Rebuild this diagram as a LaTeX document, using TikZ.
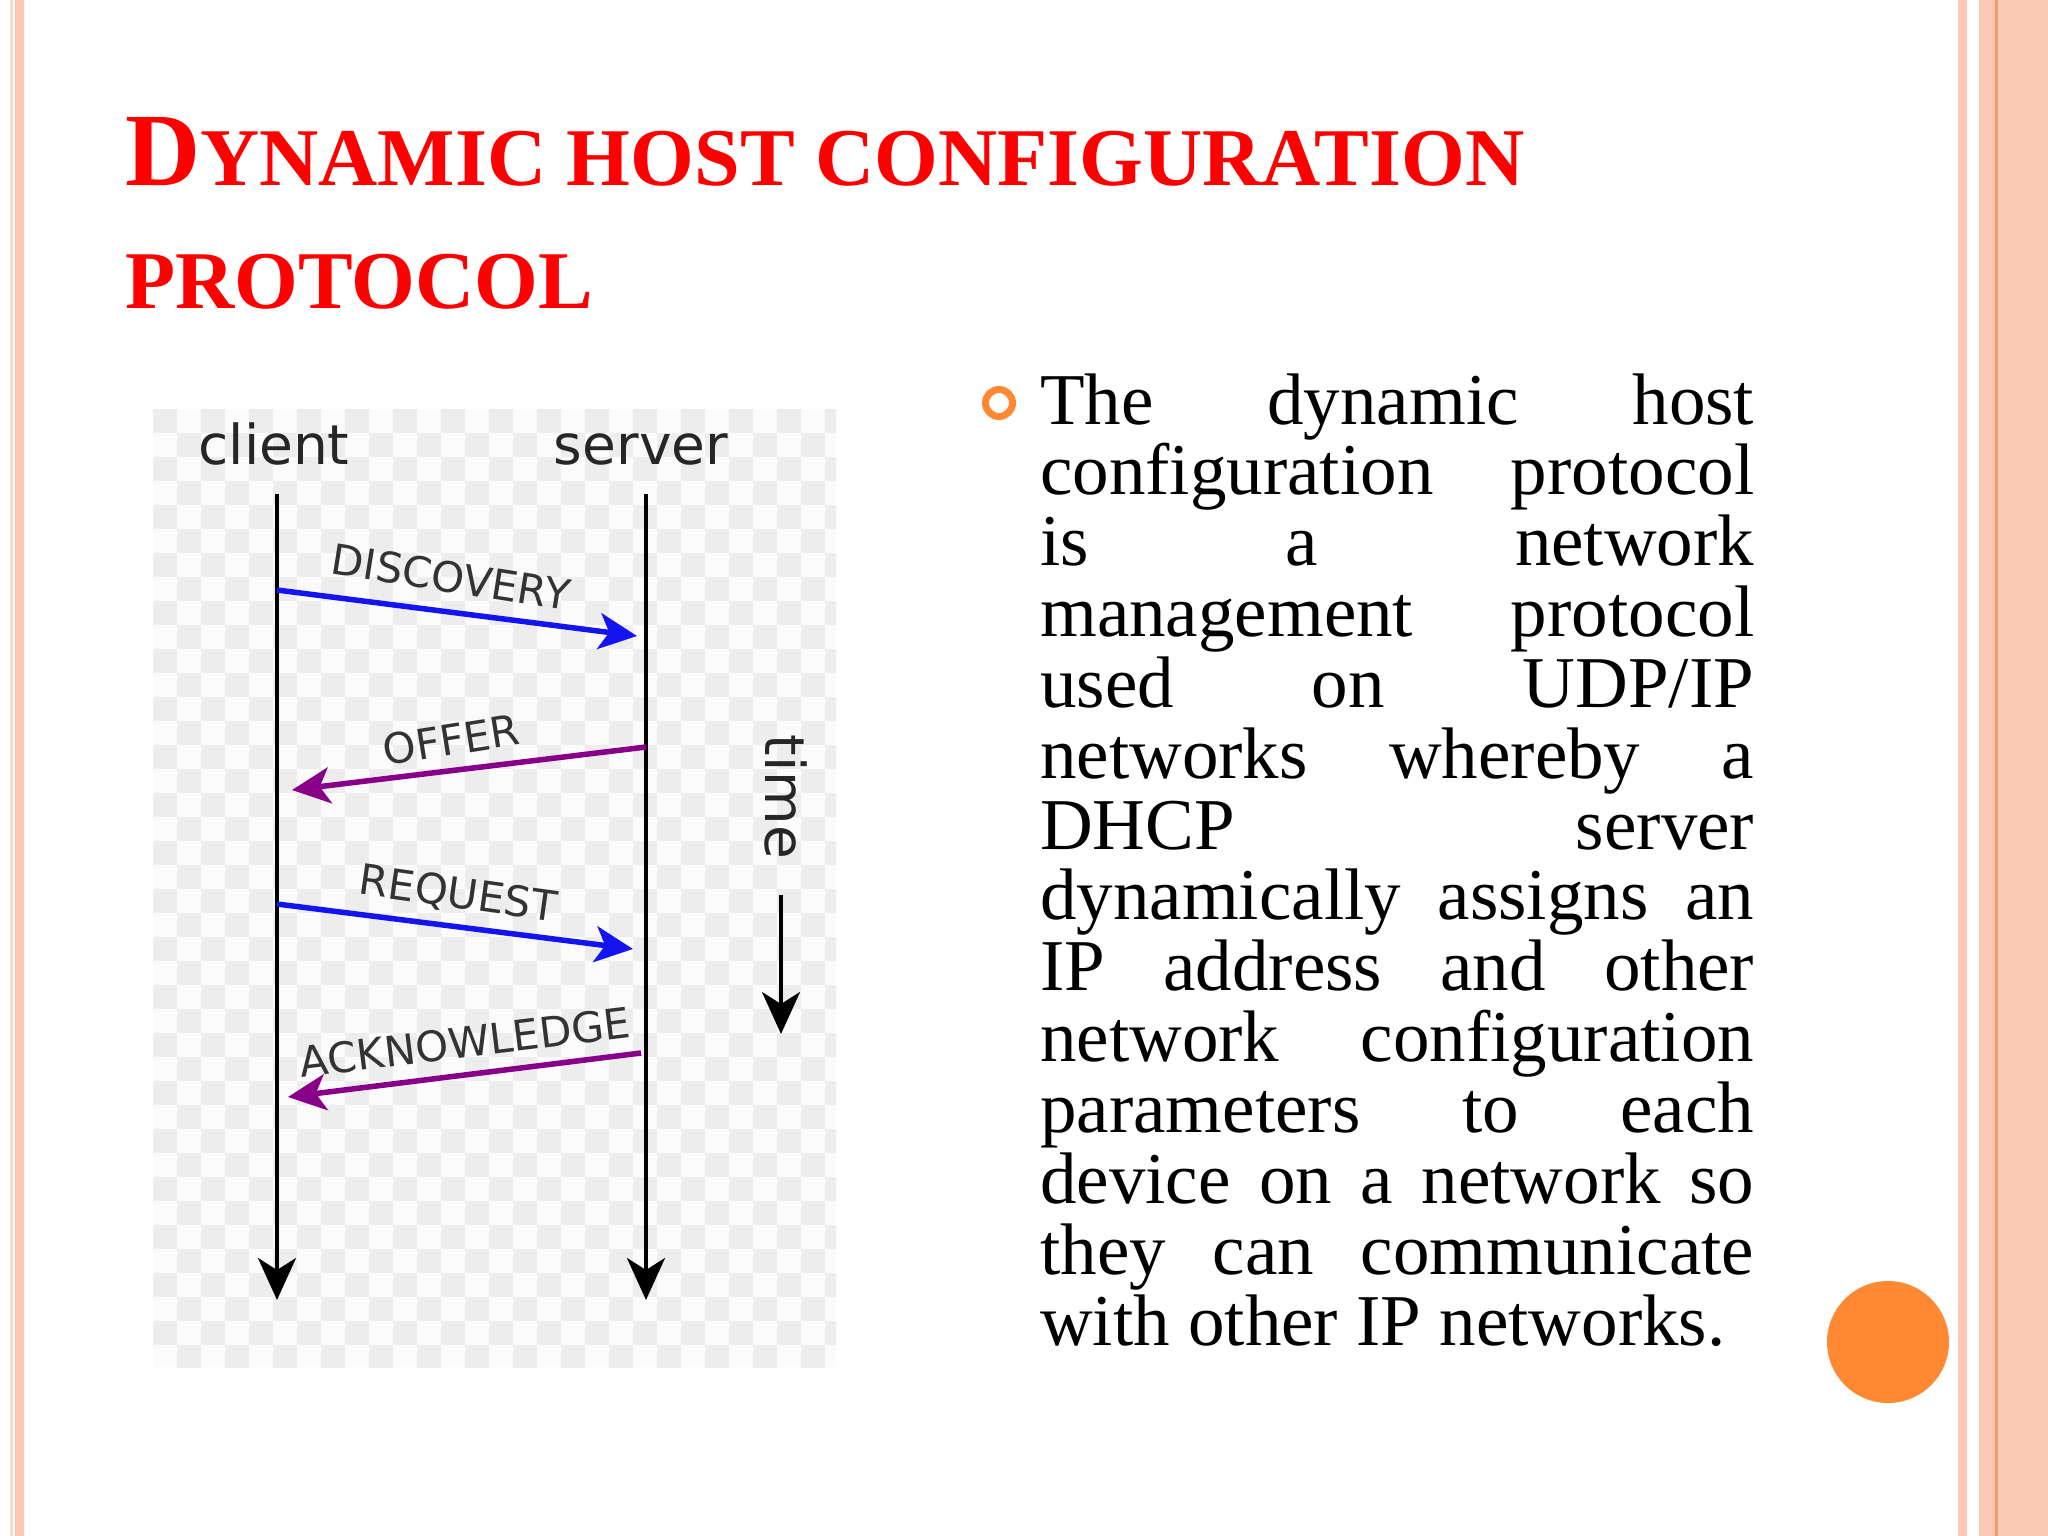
\documentclass[tikz,border=0pt]{standalone}
\usepackage{fontspec}
\setmainfont{Liberation Serif}
\newfontfamily\dejavu{DejaVu Sans}
\usetikzlibrary{arrows.meta}
\definecolor{slidered}{HTML}{FF0000}
\definecolor{accent}{HTML}{FF8833}
\definecolor{stripe}{HTML}{FCC9B5}
\definecolor{stripelight}{HTML}{FCD8CA}
\definecolor{stripedark}{HTML}{F59A6B}
\definecolor{msgblue}{HTML}{1414F0}
\definecolor{msgpurple}{HTML}{880088}
\definecolor{chkdark}{HTML}{EDEDED}
\definecolor{chklight}{HTML}{FBFBFB}
\definecolor{labelgray}{HTML}{333333}
\begin{document}
\begin{tikzpicture}[x=1pt,y=-1pt,
  lifeline/.style={line width=3.5pt, -{Stealth[length=42pt,width=38pt,inset=12pt]}},
  msg/.style={line width=5.5pt, -{Stealth[length=38pt,width=36pt,inset=10pt]}},
  msglabel/.style={font=\dejavu\fontsize{42pt}{42pt}\selectfont, text=labelgray, inner sep=0pt},
  role/.style={font=\dejavu\fontsize{55pt}{55pt}\selectfont, text=black!85, inner sep=0pt, anchor=base},
  bodyline/.style={anchor=base west, inner sep=0pt, font=\fontsize{73pt}{73pt}\selectfont},
  titleline/.style={anchor=base west, inner sep=0pt, text=slidered, font=\bfseries},
]
\useasboundingbox (0,0) rectangle (2048,1536);
\fill[white] (0,0) rectangle (2048,1536);
% side stripes
\fill[stripelight] (10,0) rectangle (13,1536);
\fill[stripe] (14.5,0) rectangle (24,1536);
\fill[stripe] (1958,0) rectangle (1967,1536);
\fill[stripe] (1979,0) rectangle (2048,1536);
\fill[stripedark] (1995,0) rectangle (1997.5,1536);
% title
\node[titleline] (title1) at (125,185) {{\fontsize{104pt}{104pt}\selectfont D}{\fontsize{82pt}{82pt}\selectfont YNAMIC HOST CONFIGURATION}};
\node[titleline] (title2) at (125,308) {\fontsize{82pt}{82pt}\selectfont PROTOCOL};
% checker background of the picture
\begin{scope}
\clip (153,409) rectangle (836,1367);
\fill[chklight] (153,409) rectangle (836,1367);
\foreach \i in {0,...,28} {
  \foreach \j in {0,...,39} {
    \pgfmathtruncatemacro{\chk}{mod(\i+\j,2)}
    \ifnum\chk=0 \fill[chkdark] ({153+24*\i},{409+24*\j}) rectangle ++(24,24); \fi
  }
}
\end{scope}
% roles
\node[role] (client) at (274,464) {client};
\node[role] (server) at (641,464) {server};
\coordinate (ctop) at (277,494);
\coordinate (cbot) at (277,1300);
\coordinate (stop) at (646,494);
\coordinate (sbot) at (646,1300);
\draw[lifeline] (ctop) -- (cbot);
\draw[lifeline] (stop) -- (sbot);
% messages
\coordinate (d1) at (277,590); \coordinate (d2) at (637,636);
\coordinate (o1) at (646,747); \coordinate (o2) at (292,790);
\coordinate (r1) at (277,904); \coordinate (r2) at (633,949);
\coordinate (a1) at (641,1053); \coordinate (a2) at (288,1097);
\draw[msg, msgblue] (d1) -- (d2);
\draw[msg, msgpurple] (o1) -- (o2);
\draw[msg, msgblue] (r1) -- (r2);
\draw[msg, msgpurple] (a1) -- (a2);
\node[msglabel, rotate=-9] (ldisc) at (451,577) {DISCOVERY};
\node[msglabel, rotate=9] (loffer) at (451,740) {OFFER};
\node[msglabel, rotate=-8] (lreq) at (458,895) {REQUEST};
\node[msglabel, rotate=7] (lack) at (465,1042) {ACKNOWLEDGE};
% time
\node[role, anchor=center, rotate=-90] (time) at (786,797) {time};
\coordinate (t1) at (781,895); \coordinate (t2) at (781,1034);
\draw[lifeline] (t1) -- (t2);
% bullet and body
\draw[accent, line width=7pt] (999,403) circle (13.5);
\node[bodyline] (b1) at (1040,424) {\makebox[714pt][s]{The dynamic host}};
\node[bodyline] (b2) at (1040,494.8) {\makebox[714pt][s]{configuration protocol}};
\node[bodyline] (b3) at (1040,565.7) {\makebox[714pt][s]{is a network}};
\node[bodyline] (b4) at (1040,636.5) {\makebox[714pt][s]{management protocol}};
\node[bodyline] (b5) at (1040,707.4) {\makebox[714pt][s]{used on UDP/IP}};
\node[bodyline] (b6) at (1040,778.2) {\makebox[714pt][s]{networks whereby a}};
\node[bodyline] (b7) at (1040,849.1) {\makebox[714pt][s]{DHCP server}};
\node[bodyline] (b8) at (1040,919.9) {\makebox[714pt][s]{dynamically assigns an}};
\node[bodyline] (b9) at (1040,990.8) {\makebox[714pt][s]{IP address and other}};
\node[bodyline] (b10) at (1040,1061.6) {\makebox[714pt][s]{network configuration}};
\node[bodyline] (b11) at (1040,1132.5) {\makebox[714pt][s]{parameters to each}};
\node[bodyline] (b12) at (1040,1203.3) {\makebox[714pt][s]{device on a network so}};
\node[bodyline] (b13) at (1040,1274.2) {\makebox[714pt][s]{they can communicate}};
\node[bodyline] (b14) at (1040,1345) {with other IP networks.};
% decorative circle
\fill[accent] (1888,1342) circle (61);
\end{tikzpicture}
\end{document}
